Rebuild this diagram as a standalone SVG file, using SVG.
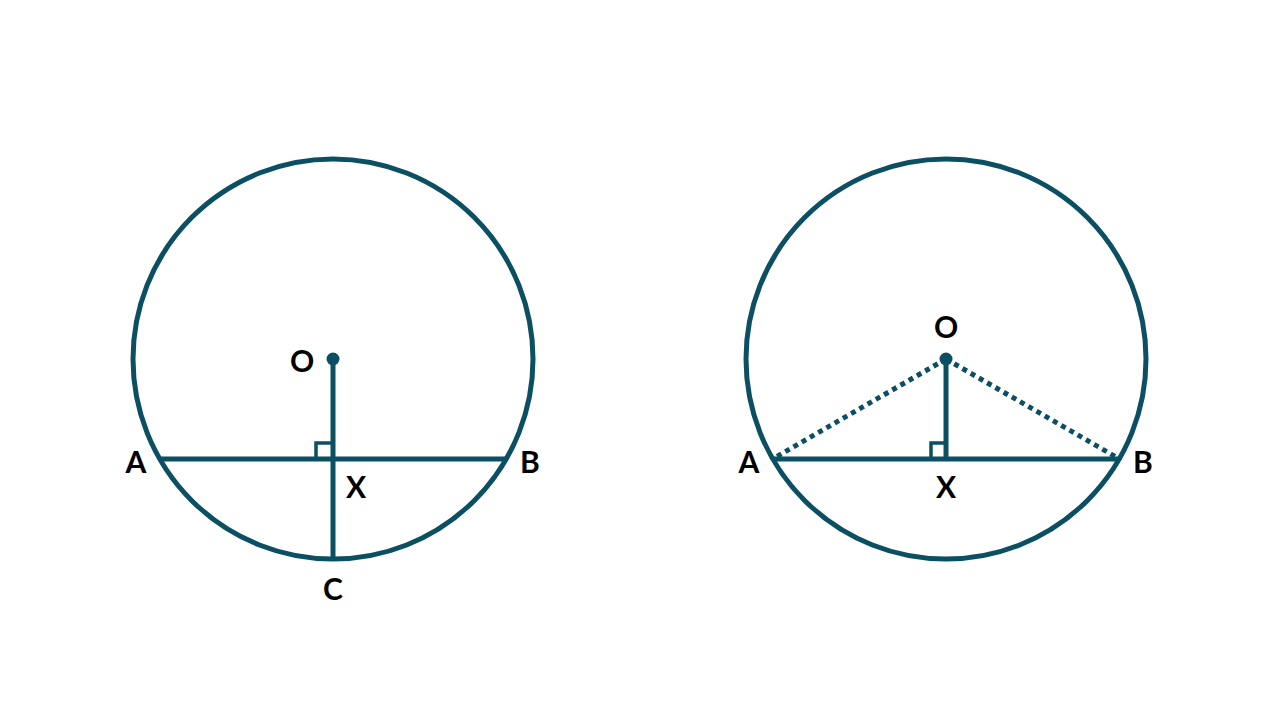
<svg xmlns="http://www.w3.org/2000/svg" width="1280" height="720" viewBox="0 0 1280 720">
<style>
.s{fill:none;stroke:#0b4f63;stroke-width:5}
.d{fill:none;stroke:#0b4f63;stroke-width:5;stroke-dasharray:5 4.5}
.q{fill:none;stroke:#0b4f63;stroke-width:3.5}
.p{fill:#0b4f63}
.t{font-family:Lato,"Open Sans","Liberation Sans",sans-serif;font-weight:bold;font-size:30px;fill:#000;text-anchor:middle;dominant-baseline:central}
</style>
<rect width="1280" height="720" fill="#fff"/>
<g id="left">
<circle class="s" cx="333" cy="359" r="200"/>
<line class="s" x1="160" y1="459" x2="506" y2="459"/>
<line class="s" x1="333" y1="359" x2="333" y2="559"/>
<polyline class="q" points="316,459 316,443 333,443"/>
<circle class="p" cx="333" cy="359" r="6.5"/>
<text class="t" x="302" y="360">O</text>
<text class="t" x="136" y="461">A</text>
<text class="t" x="530" y="461">B</text>
<text class="t" x="356" y="486">X</text>
<text class="t" x="333" y="588">C</text>
</g>
<g id="right">
<circle class="s" cx="946" cy="359" r="200"/>
<line class="s" x1="773" y1="459" x2="1119" y2="459"/>
<line class="s" x1="946" y1="359" x2="946" y2="459"/>
<line class="d" x1="946" y1="359" x2="776" y2="457"/>
<line class="d" x1="946" y1="359" x2="1116" y2="457"/>
<polyline class="q" points="931,459 931,443 946,443"/>
<circle class="p" cx="946" cy="359" r="6.5"/>
<text class="t" x="946" y="326">O</text>
<text class="t" x="749" y="461">A</text>
<text class="t" x="1143" y="461">B</text>
<text class="t" x="946" y="486">X</text>
</g>
</svg>
